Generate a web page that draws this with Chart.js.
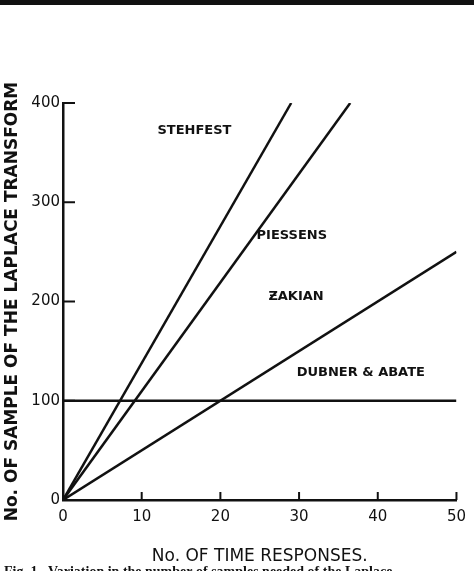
<!DOCTYPE html>
<html>
<head>
<meta charset="utf-8">
<script src="https://cdn.jsdelivr.net/npm/chart.js@4"></script>
<style>
  html, body { margin: 0; padding: 0; background: #fff; }
  #wrap { width: 474px; height: 571px; position: relative; }
</style>
</head>
<body>
<div id="wrap"><canvas id="c"></canvas></div>
<script>
// values
const xTicks = [0, 10, 20, 30, 40, 50];
const yTicks = [0, 100, 200, 300, 400];
const stehfest = [{ x: 0, y: 0 }, { x: 29, y: 400 }];
const piessens = [{ x: 0, y: 0 }, { x: 36.5, y: 400 }];
const zakian = [{ x: 0, y: 0 }, { x: 50, y: 250 }];
const dubner = [{ x: 0, y: 100 }, { x: 50, y: 100 }];
const lineLabels = ["STEHFEST", "PIESSENS", "ƵAKIAN", "DUBNER & ABATE"];
const labelAt = [[12, 372], [24.6, 266], [26.1, 205], [29.7, 128]];

const FONT = "'DejaVu Sans', sans-serif";

const extras = {
  id: "extras",
  afterDraw(chart) {
    const { ctx, scales: { x, y } } = chart;
    ctx.save();
    ctx.strokeStyle = "#111";
    ctx.lineWidth = 2;
    // inward tick marks
    xTicks.slice(1).forEach(v => {
      const px = x.getPixelForValue(v);
      ctx.beginPath(); ctx.moveTo(px, y.bottom); ctx.lineTo(px, y.bottom - 8); ctx.stroke();
    });
    yTicks.slice(1).forEach(v => {
      const py = y.getPixelForValue(v);
      ctx.beginPath(); ctx.moveTo(x.left, py); ctx.lineTo(x.left + 12, py); ctx.stroke();
    });
    // line labels
    ctx.fillStyle = "#111";
    ctx.font = "bold 13px " + FONT;
    ctx.textBaseline = "middle";
    lineLabels.forEach((t, i) => {
      ctx.fillText(t, x.getPixelForValue(labelAt[i][0]), y.getPixelForValue(labelAt[i][1]));
    });
    // top rule and caption
    ctx.fillRect(0, 0, 474, 5);
    ctx.font = "bold 14px 'Liberation Serif', serif";
    ctx.textBaseline = "alphabetic";
    ctx.fillText("Fig. 1   Variation in the number of samples needed of the Laplace", 4, 576);
    ctx.restore();
  }
};

new Chart(document.getElementById("c"), {
  type: "scatter",
  data: {
    datasets: [stehfest, piessens, zakian, dubner].map(d => ({
      data: d, showLine: true, borderColor: "#111", borderWidth: 2.5,
      pointRadius: 0, fill: false
    }))
  },
  options: {
    responsive: true,
    maintainAspectRatio: false,
    animation: false,
    layout: { padding: { top: 103, right: 15, left: 0, bottom: 0 } },
    plugins: { legend: { display: false }, tooltip: { enabled: false } },
    scales: {
      x: {
        type: "linear", min: 0, max: 50,
        afterBuildTicks: s => { s.ticks = xTicks.map(v => ({ value: v })); },
        afterFit: s => { s.height = 71; },
        grid: { display: false, drawTicks: false },
        border: { color: "#111", width: 2.5 },
        ticks: { color: "#111", padding: 8, font: { family: FONT, size: 15 } },
        title: { display: true, text: "No. OF TIME RESPONSES.", color: "#111", padding: { top: 6 },
                 font: { family: FONT, size: 17 } }
      },
      y: {
        type: "linear", min: 0, max: 400,
        afterBuildTicks: s => { s.ticks = yTicks.map(v => ({ value: v })); },
        afterFit: s => { s.width = 63; },
        grid: { display: false, drawTicks: false },
        border: { color: "#111", width: 2.5 },
        ticks: { color: "#111", padding: 3, font: { family: FONT, size: 15 } },
        title: { display: true, text: "No. OF SAMPLE OF THE LAPLACE TRANSFORM", color: "#111",
                 padding: { bottom: 0, top: 2 }, font: { family: FONT, size: 17, weight: "bold" } }
      }
    }
  },
  plugins: [extras]
});
</script>
</body>
</html>
